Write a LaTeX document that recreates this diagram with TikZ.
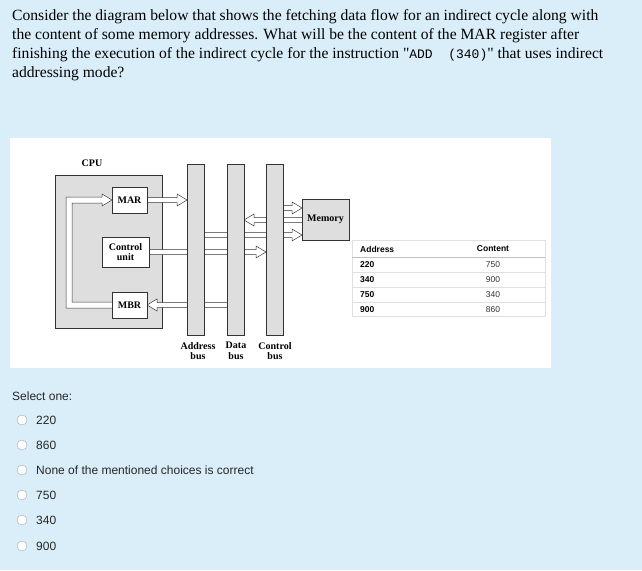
\documentclass[tikz,border=0pt]{standalone}
\usepackage{fontspec}
\setmainfont{Liberation Serif}
\setsansfont{Liberation Sans}
\setmonofont{Liberation Mono}
\begin{document}
\begin{tikzpicture}[x=1pt,y=-1pt,
  qtext/.style={anchor=west,inner sep=0pt,font=\fontsize{15.6}{16}\selectfont},
  opt/.style={anchor=west,inner sep=0pt,font=\sffamily\fontsize{12}{14}\selectfont,text=black!85},
  radio/.style={circle,draw=gray!70,fill=white,minimum size=10pt,inner sep=0pt},
  blk/.style={draw=black!80,fill=white,inner sep=0pt,font=\fontsize{10}{10}\selectfont\bfseries,align=center},
  bus/.style={draw=black!80,fill=black!13},
  harrow/.style={draw=black!80,fill=white,line width=0.5pt},
  lbl/.style={font=\fontsize{10}{10.5}\selectfont\bfseries,align=center,inner sep=0pt},
  tb/.style={font=\sffamily\fontsize{8.5}{9}\selectfont\bfseries,inner sep=0pt},
  tc/.style={font=\sffamily\fontsize{8.5}{9}\selectfont,inner sep=0pt,text=black!80}]
\fill[fill={rgb,255:red,217;green,238;blue,249}] (0,0) rectangle (642,570);
\useasboundingbox (0,0) rectangle (642,570);
% question
\node[qtext] (q1) at (12,17) {Consider the diagram below that shows the fetching data flow for an indirect cycle along with};
\node[qtext] (q2) at (12,36) {the content of some memory addresses. What will be the content of the MAR register after};
\node[qtext] (q3) at (12,55) {finishing the execution of the indirect cycle for the instruction \textquotedbl{\ttfamily\fontsize{13}{14}\selectfont ADD~~(340)}\textquotedbl{} that uses indirect};
\node[qtext] (q4) at (12,74) {addressing mode?};
% panel
\fill[white] (10,138) rectangle (551,368);
\newcommand\harr[4]{\draw[harrow] (#1,#4-2.5) -- (#2,#4-2.5) -- (#2,#4-6) -- (#3,#4) -- (#2,#4+6) -- (#2,#4+2.5) -- (#1,#4+2.5);}
% CPU
\node[lbl] (cpu) at (92,163) {CPU};
\draw[bus] (55,175) rectangle (162,328);
% arrows (behind buses)
\harr{147}{177}{187}{200}
\harr{227}{157}{147}{305}
\harr{149}{256}{266}{252}
\harr{302}{254}{244}{220}
\harr{283}{292}{302}{208}
\harr{204}{292}{302}{235}
% loop
\draw[harrow] (112,308) -- (66,308) -- (66,197) -- (102,197) -- (102,194) -- (112,200) -- (102,206) -- (102,203) -- (72,203) -- (72,302) -- (112,302);
% blocks
\node[blk,minimum width=35pt,minimum height=26pt] (mar) at (129.5,200) {MAR};
\node[blk,minimum width=47pt,minimum height=30pt] (cu) at (125.5,252) {Control\\unit};
\node[blk,minimum width=35pt,minimum height=26pt] (mbr) at (129.5,305) {MBR};
\node[blk,fill=black!13,minimum width=47pt,minimum height=41pt] (mem) at (325.5,219.5) {Memory};
% buses
\draw[bus] (187,164) rectangle (204,335);
\draw[bus] (227,164) rectangle (244,335);
\draw[bus] (266,164) rectangle (283,335);
\node[lbl] (ab) at (198,351) {Address\\bus};
\node[lbl] (db) at (236,351) {Data\\bus};
\node[lbl] (cb) at (275,351) {Control\\bus};
% table
\draw[black!12] (352,240) rectangle (545,316);
\draw[black!25,line width=1pt] (352,257) -- (545,257);
\foreach \yy in {272,287,302} \draw[black!12] (352,\yy) -- (545,\yy);
\node[tb,anchor=west] (th1) at (360,249) {Address};
\node[tb] (th2) at (493,249) {Content};
\node[tb,anchor=west] (a1) at (360,264.5) {220}; \node[tc] (c1) at (493,264.5) {750};
\node[tb,anchor=west] (a2) at (360,279.5) {340}; \node[tc] (c2) at (493,279.5) {900};
\node[tb,anchor=west] (a3) at (360,294.5) {750}; \node[tc] (c3) at (493,294.5) {340};
\node[tb,anchor=west] (a4) at (360,309.5) {900}; \node[tc] (c4) at (493,309.5) {860};
% options
\node[opt] (sel) at (12,396) {Select one:};
\foreach \yy/\t [count=\i] in {420/220,445/860,470/None of the mentioned choices is correct,495/750,520/340,546/900} {
  \node[radio] (r\i) at (22,\yy) {};
  \node[opt] (o\i) at (36,\yy) {\t};
}
\end{tikzpicture}
\end{document}
